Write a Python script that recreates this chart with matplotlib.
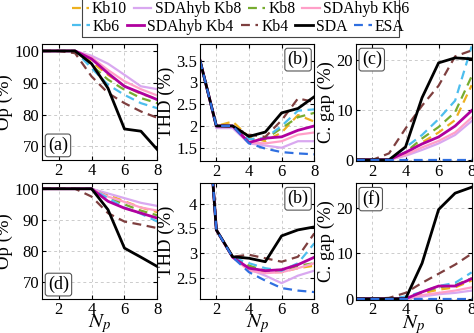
import numpy as np
from matplotlib import pyplot as plt
from matplotlib.patches import Rectangle

plt.rcParams['font.family'] = ['Liberation Serif', 'DejaVu Serif']
plt.rcParams['mathtext.fontset'] = 'stix'

Np = [1, 2, 3, 4, 5, 6, 7, 8]

names = ['Kb10', 'SDAhyb Kb8', 'Kb8', 'SDAhyb Kb6', 'Kb6',
         'SDAhyb Kb4', 'Kb4', 'SDA', 'ESA']

# Op (%) - case 1
op1 = {
    'Kb10':       [100, 100, 100, 96.5, 92.5, 89.0, 86.5, 85.0],
    'SDAhyb Kb8': [100, 100, 100, 98.5, 96.0, 92.5, 88.9, 88.0],
    'Kb8':        [100, 100, 100, 95.5, 91.0, 87.8, 85.2, 83.6],
    'SDAhyb Kb6': [100, 100, 100, 98.0, 94.0, 90.5, 88.0, 86.0],
    'Kb6':        [100, 100, 100, 94.6, 89.4, 86.2, 83.6, 82.0],
    'SDAhyb Kb4': [100, 100, 100, 97.5, 93.0, 88.9, 86.8, 84.7],
    'Kb4':        [100, 100, 99.3, 92.0, 86.8, 83.6, 81.0, 79.0],
    'SDA':        [100, 100, 100, 96.0, 88.3, 75.5, 74.8, 69.0],
}
# THD (%) - case 1
thd1 = {
    'Kb10':       [3.5, 2.0, 2.1, 1.75, 1.65, 1.85, 2.25, 2.1],
    'SDAhyb Kb8': [3.5, 1.95, 1.95, 1.6, 1.55, 1.5, 1.65, 1.65],
    'Kb8':        [3.5, 2.0, 2.0, 1.7, 1.7, 1.95, 2.2, 2.3],
    'SDAhyb Kb6': [3.5, 2.0, 2.0, 1.62, 1.6, 1.65, 1.8, 1.85],
    'Kb6':        [3.5, 2.0, 2.0, 1.7, 1.72, 2.0, 2.35, 2.38],
    'SDAhyb Kb4': [3.5, 2.0, 2.0, 1.62, 1.72, 1.75, 1.9, 2.0],
    'Kb4':        [3.5, 2.0, 1.98, 1.8, 1.75, 2.13, 2.63, 2.55],
    'SDA':        [3.5, 2.0, 2.0, 1.76, 1.86, 2.3, 2.4, 2.67],
    'ESA':        [3.5, 2.0, 2.0, 1.6, 1.48, 1.4, 1.37, 1.35],
}
# C. gap (%) - case 1
gap1 = {
    'Kb10':       [0, 0, 0, 1.2, 3.5, 5.5, 8.0, 15.0],
    'SDAhyb Kb8': [0, 0, 0, 0.8, 2.0, 3.3, 5.0, 7.8],
    'Kb8':        [0, 0, 0, 1.5, 4.3, 6.6, 9.6, 16.8],
    'SDAhyb Kb6': [0, 0, 0, 1.0, 2.5, 3.8, 5.5, 8.5],
    'Kb6':        [0, 0, 0, 2.5, 5.0, 8.2, 11.9, 22.8],
    'SDAhyb Kb4': [0, 0, 0, 1.5, 3.2, 4.6, 6.8, 9.9],
    'Kb4':        [0, 0, 1.3, 6.3, 10.9, 14.9, 20.8, 22.0],
    'SDA':        [0, 0, 0, 2.6, 12.5, 19.5, 20.5, 20.3],
    'ESA':        [0, 0, 0, 0, 0, 0, 0, 0],
}
# Op (%) - case 2
op2 = {
    'Kb10':       [100, 100, 100, 100, 98.0, 96.0, 94.0, 92.5],
    'SDAhyb Kb8': [100, 100, 100, 100, 98.5, 97.0, 95.5, 94.5],
    'Kb8':        [100, 100, 100, 100, 97.5, 95.0, 93.0, 91.5],
    'SDAhyb Kb6': [100, 100, 100, 100, 97.5, 95.8, 94.0, 93.0],
    'Kb6':        [100, 100, 100, 100, 97.0, 94.0, 92.0, 89.5],
    'SDAhyb Kb4': [100, 100, 100, 100, 96.0, 93.8, 92.2, 90.6],
    'Kb4':        [100, 100, 100, 97.5, 92.2, 89.5, 88.5, 87.4],
    'SDA':        [100, 100, 100, 100, 93.3, 81.0, 78.1, 75.1],
}
# THD (%) - case 2
thd2 = {
    'Kb10':       [8.0, 3.47, 2.92, 2.75, 2.62, 2.62, 2.7, 2.75],
    'SDAhyb Kb8': [8.0, 3.47, 2.92, 2.68, 2.55, 2.4, 2.55, 2.65],
    'Kb8':        [8.0, 3.47, 2.92, 2.75, 2.65, 2.65, 2.75, 2.8],
    'SDAhyb Kb6': [8.0, 3.47, 2.92, 2.65, 2.6, 2.62, 2.7, 2.8],
    'Kb6':        [8.0, 3.47, 2.92, 2.8, 2.7, 2.65, 2.8, 3.2],
    'SDAhyb Kb4': [8.0, 3.47, 2.92, 2.7, 2.65, 2.67, 2.77, 2.92],
    'Kb4':        [8.0, 3.47, 2.93, 2.97, 2.9, 2.83, 2.93, 3.4],
    'SDA':        [8.0, 3.47, 2.93, 2.9, 2.83, 3.35, 3.47, 3.53],
    'ESA':        [8.0, 3.47, 2.92, 2.62, 2.45, 2.3, 2.25, 2.22],
}
# C. gap (%) - case 2
gap2 = {
    'Kb10':       [0, 0, 0, 0, 1.2, 2.0, 2.5, 4.0],
    'SDAhyb Kb8': [0, 0, 0, 0, 0.5, 1.0, 1.3, 1.8],
    'Kb8':        [0, 0, 0, 0, 1.5, 2.5, 3.0, 4.5],
    'SDAhyb Kb6': [0, 0, 0, 0, 0.8, 1.3, 1.8, 2.5],
    'Kb6':        [0, 0, 0, 0.5, 1.5, 2.8, 3.5, 5.8],
    'SDAhyb Kb4': [0, 0, 0, 0, 1.5, 2.8, 2.8, 4.4],
    'Kb4':        [0, 0, 0.2, 1.3, 3.5, 5.5, 7.5, 9.9],
    'SDA':        [0, 0, 0, 0, 7.8, 19.6, 23.2, 24.5],
    'ESA':        [0, 0, 0, 0, 0, 0, 0, 0],
}

dash = (0, (4, 2.5))
styles = {
    'Kb10':       dict(color='#EDB120', ls=dash, lw=1.6),
    'SDAhyb Kb8': dict(color='#D9A8F0', ls='-', lw=1.6),
    'Kb8':        dict(color='#77AC30', ls=dash, lw=1.6),
    'SDAhyb Kb6': dict(color='#FF9FC8', ls='-', lw=1.6),
    'Kb6':        dict(color='#4DBEEE', ls=dash, lw=1.6),
    'SDAhyb Kb4': dict(color='#B0009E', ls='-', lw=2.0),
    'Kb4':        dict(color='#7E3F3F', ls=dash, lw=1.6),
    'SDA':        dict(color='black', ls='-', lw=2.0),
    'ESA':        dict(color='#2F6FE0', ls=dash, lw=1.6),
}

fig = plt.figure(figsize=(4.74, 3.33), dpi=100)

panels = [
    # data, ylabel, ylim, yticks, tag, tag corner, rect
    (op1, 'Op (%)', (65.8, 102.2), [70, 80, 90, 100], '(a)', 'll', [0.089, 0.520, 0.243, 0.348]),
    (thd1, 'THD (%)', (1.2, 3.88), [1.5, 2, 2.5, 3, 3.5], '(b)', 'ur', [0.422, 0.517, 0.241, 0.351]),
    (gap1, 'C. gap (%)', (-0.2, 23.3), [0, 10, 20], '(c)', 'ul', [0.751, 0.517, 0.244, 0.351]),
    (op2, 'Op (%)', (64.7, 101.8), [70, 80, 90, 100], '(d)', 'll', [0.089, 0.102, 0.243, 0.348]),
    (thd2, 'THD (%)', (2.08, 4.41), [2.5, 3, 3.5, 4], '(b)', 'ur', [0.422, 0.102, 0.241, 0.348]),
    (gap2, 'C. gap (%)', (-0.2, 25.4), [0, 10, 20], '(f)', 'ul', [0.751, 0.100, 0.244, 0.350]),
]

handles = {}
for i, (data, ylab, ylim, yt, tag, pos, rect) in enumerate(panels):
    ax = fig.add_axes(rect)
    for nm in names:
        if nm in data:
            ln, = ax.plot(Np, data[nm], label=nm, **styles[nm])
            handles[nm] = ln
    ax.set_xlim(1, 8)
    ax.set_ylim(*ylim)
    ax.set_xticks([2, 4, 6, 8])
    ax.set_yticks(yt)
    ax.set_yticklabels([('%g' % v) for v in yt])
    ax.grid(True, ls=(0, (3, 3)), color='#cccccc', lw=0.7)
    ax.tick_params(direction='in', top=True, right=True, labelsize=12, length=3, pad=2)
    ax.set_ylabel(ylab, fontsize=13.5, labelpad=1)
    if i >= 3:
        ax.set_xlabel('$N_p$', fontsize=15, labelpad=-4)
    if pos == 'll':
        xy, ha, va = (0.05, 0.05), 'left', 'bottom'
    elif pos == 'ur':
        xy, ha, va = (0.95, 0.94), 'right', 'top'
    else:
        xy, ha, va = (0.05, 0.94), 'left', 'top'
    ax.text(xy[0], xy[1], tag, transform=ax.transAxes, ha=ha, va=va, fontsize=13,
            bbox=dict(boxstyle='round,pad=0.15', fc='white', ec='#555555', lw=0.8))

# legend: two rows of different length, one frame round both
row1 = ['Kb10', 'SDAhyb Kb8', 'Kb8', 'SDAhyb Kb6']
row2 = ['Kb6', 'SDAhyb Kb4', 'Kb4', 'SDA', 'ESA']
leg_kw = dict(loc='center', fontsize=11.3, frameon=False, handlelength=1.1,
              handletextpad=0.2, columnspacing=0.45, borderpad=0, borderaxespad=0)
fig.legend([handles[n] for n in row1], row1, ncol=4,
           bbox_to_anchor=(0.507, 0.972), **leg_kw)
fig.legend([handles[n] for n in row2], row2, ncol=5,
           bbox_to_anchor=(0.503, 0.920), **leg_kw)
fig.patches.append(Rectangle((0.173, 0.889), 0.669, 0.115, transform=fig.transFigure,
                             fill=False, ec='#444444', lw=0.8))

plt.savefig('out.png', dpi=100)
